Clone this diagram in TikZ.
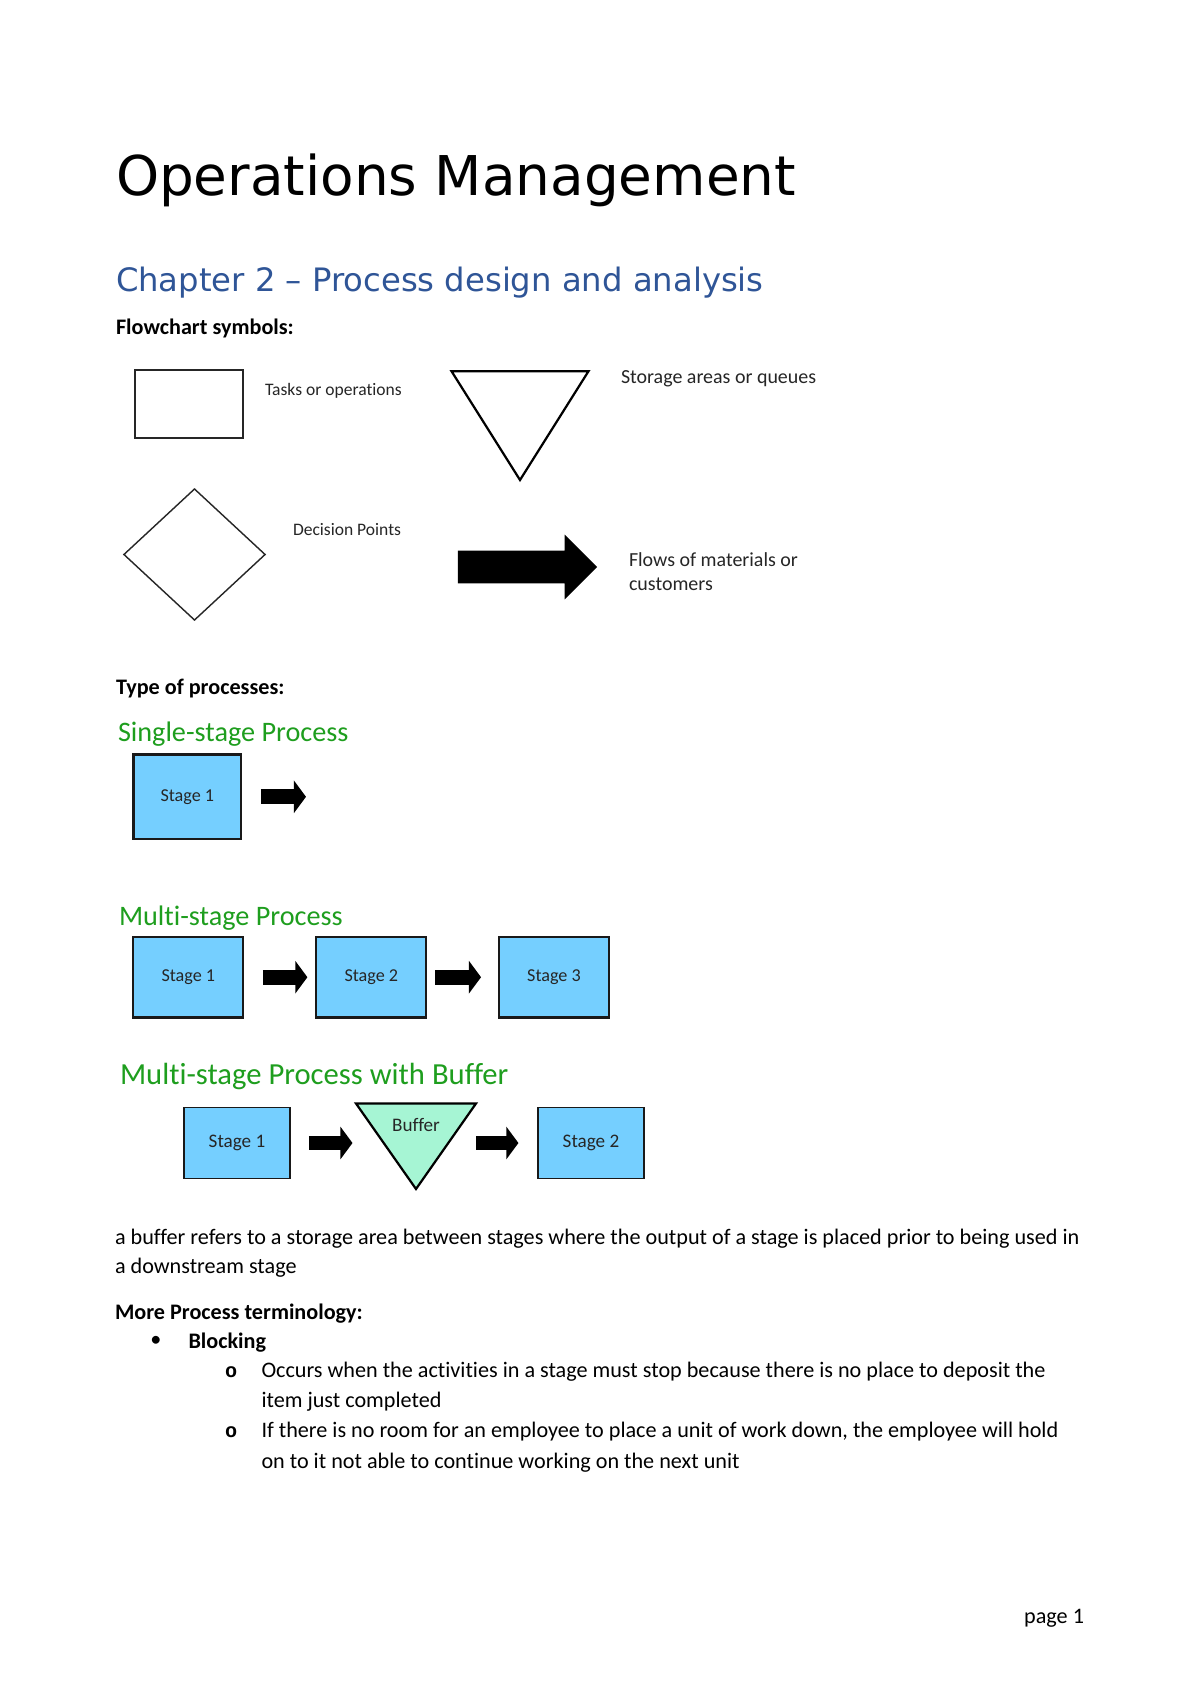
\documentclass[tikz,border=0pt]{standalone}
\usepackage{fontspec}
\setmainfont{Carlito}[Ligatures=NoCommon]
\newfontfamily\headfont{DejaVu Sans}
\newfontfamily\bulletfont{Liberation Mono}
\usetikzlibrary{shapes.geometric,shapes.arrows,arrows.meta}
\definecolor{stageblue}{HTML}{75CFFF}
\definecolor{buffergreen}{HTML}{A6F5D4}
\definecolor{headgreen}{HTML}{1E9E1E}
\definecolor{chapblue}{HTML}{2F5597}

\begin{document}
\begin{tikzpicture}[
    x=0.4961pt, y=-0.4961pt,
    every node/.style={inner sep=0pt, outer sep=0pt},
    txt/.style={anchor=base west, font=\fontsize{11}{14}\selectfont},
    boldtxt/.style={anchor=base west, font=\fontsize{11}{14}\selectfont\bfseries},
    symlabel/.style={anchor=base west, font=\fontsize{8.7}{11}\selectfont, text=black!85},
    biglabel/.style={symlabel, font=\fontsize{9.9}{12}\selectfont},
    heading/.style={anchor=base west, text=headgreen, font=\fontsize{14}{17}\selectfont},
    symbol/.style={draw=black!85, line width=0.7pt, fill=white},
    stage/.style={rectangle, draw=black!90, line width=1.1pt, fill=stageblue, text=black!85, font=\fontsize{9}{11}\selectfont},
    storage/.style={isosceles triangle, isosceles triangle stretches, shape border rotate=270, anchor=apex, draw=black, line width=1.1pt},
    flow/.style={draw=black, line width=7.4pt, -{Triangle[length=6pt, width=15.9pt]}}
]
\fill[white] (0,0) rectangle (1200,1696);
\useasboundingbox (0,0) rectangle (1200,1696);

% Headings
\node[anchor=base west, font=\headfont\fontsize{27.2}{33}\selectfont] (title) at (116,196) {Operations Management};
\node[anchor=base west, font=\headfont\fontsize{16}{19}\selectfont, text=chapblue] (chapter) at (116,291) {Chapter 2 – Process design and analysis};
\node[boldtxt] (symhead) at (116,334) {Flowchart symbols:};

% Flowchart symbols
\node[symbol, rectangle, minimum width=53.6pt, minimum height=33.7pt] (task) at (189,404) {};
\node[symlabel] (tasklbl) at (265,395) {Tasks or operations};
\node[storage, fill=white, minimum width=68pt, minimum height=54pt] (store) at (520,480) {};
\node[biglabel] (storelbl) at (621,383.5) {Storage areas or queues};
\node[symbol, diamond, minimum width=70pt, minimum height=65pt] (decide) at (194.5,554.5) {};
\node[symlabel] (decidelbl) at (293,535) {Decision Points};
\node[single arrow, fill=black, anchor=tip, inner xsep=0pt, inner ysep=7.95pt, minimum height=69pt, single arrow head extend=7.9pt] (flowsym) at (597,567) {};
\node[biglabel] (flowlbl1) at (629,566) {Flows of materials or};
\node[biglabel] (flowlbl2) at (629,590) {customers};

\node[boldtxt] (typehead) at (116,694) {Type of processes:};

% Single-stage process
\node[heading] (single) at (118,741) {Single-stage Process};
\node[stage, minimum width=53.3pt, minimum height=41.9pt] (s0) at (187.3,796.8) {Stage 1};
\coordinate (s0out) at (306,796.8);
\draw[flow, shorten <=9.9pt] (s0.east) -- (s0out);

% Multi-stage process
\node[heading] (multi) at (119,925) {Multi-stage Process};
\node[stage, minimum width=54.6pt, minimum height=40pt] (m1) at (188.3,977.2) {Stage 1};
\node[stage, minimum width=54.6pt, minimum height=40pt] (m2) at (371.3,977.2) {Stage 2};
\node[stage, minimum width=54.6pt, minimum height=40pt] (m3) at (554,977.2) {Stage 3};
\draw[flow, shorten <=9.7pt, shorten >=4.4pt] (m1.east) -- (m2.west);
\draw[flow, shorten <=4.5pt, shorten >=8.9pt] (m2.east) -- (m3.west);

% Multi-stage process with buffer
\node[heading, font=\fontsize{15.2}{18}\selectfont] (withbuf) at (120,1084) {Multi-stage Process with Buffer};
\node[stage, line width=0.9pt, minimum width=52.6pt, minimum height=35.2pt, font=\fontsize{9.5}{11}\selectfont] (b1) at (237,1143) {Stage 1};
\node[storage, fill=buffergreen, minimum width=59.5pt, minimum height=42.4pt] (buf) at (416,1189) {};
\node[anchor=base, text=black!85, font=\fontsize{9.5}{11}\selectfont] (buflbl) at (416,1131.6) {Buffer};
\node[stage, line width=0.9pt, minimum width=52.6pt, minimum height=35.2pt, font=\fontsize{9.5}{11}\selectfont] (b2) at (591,1143) {Stage 2};
\draw[flow, shorten <=9.4pt, shorten >=31.5pt] (b1.east) -- (b1.east -| buf.apex);
\draw[flow, shorten <=29.8pt, shorten >=9.7pt] (b2.west -| buf.apex) -- (b2.west);

% Text below
\node[txt] (para1) at (115,1244) {a buffer refers to a storage area between stages where the output of a stage is placed prior to being used in};
\node[txt] (para2) at (115,1273) {a downstream stage};
\node[boldtxt] (morehead) at (115,1319) {More Process terminology:};
\node[anchor=base, font=\fontsize{11}{14}\selectfont] (dot) at (156,1346) {•};
\node[boldtxt] (blocking) at (188.5,1348) {Blocking};
\node[anchor=base west, font=\bulletfont\bfseries\fontsize{10}{12}\selectfont] (o1) at (225,1377) {o};
\node[txt] (item1a) at (261.5,1377) {Occurs when the activities in a stage must stop because there is no place to deposit the};
\node[txt] (item1b) at (261.5,1407.5) {item just completed};
\node[anchor=base west, font=\bulletfont\bfseries\fontsize{10}{12}\selectfont] (o2) at (225,1437.5) {o};
\node[txt] (item2a) at (261.5,1437.5) {If there is no room for an employee to place a unit of work down, the employee will hold};
\node[txt] (item2b) at (261.5,1468) {on to it not able to continue working on the next unit};

\node[anchor=base east, font=\fontsize{11}{14}\selectfont] (page) at (1084,1623) {page 1};
\end{tikzpicture}
\end{document}
